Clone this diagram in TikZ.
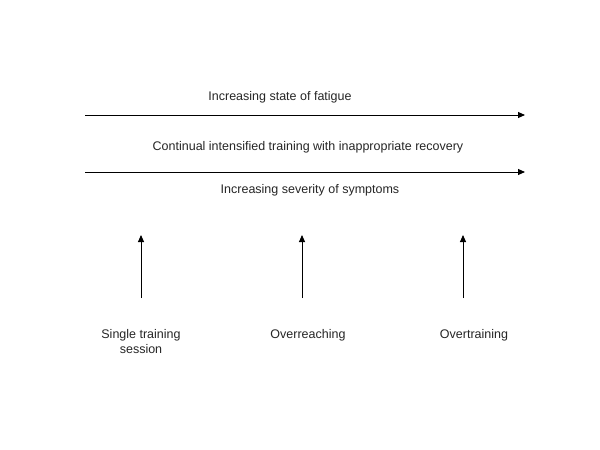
\documentclass[tikz,border=0pt]{standalone}
\usepackage{fontspec}
\setmainfont{Liberation Sans}
\usetikzlibrary{arrows.meta}
\begin{document}
\begin{tikzpicture}[x=1pt,y=-1pt,
  arr/.style={-{Triangle[length=7pt,width=6pt]},line width=0.9pt},
  lbl/.style={font=\fontsize{12.5}{15}\selectfont,text=black!85,align=center,inner sep=0pt}]
\useasboundingbox[fill=white] (0,0) rectangle (600,450);
\coordinate (a1) at (85,115); \coordinate (b1) at (525,115);
\coordinate (a2) at (85,172); \coordinate (b2) at (525,172);
\draw[arr] (a1) -- (b1);
\draw[arr] (a2) -- (b2);
\node[lbl] (t1) at (280,97) {Increasing state of fatigue};
\node[lbl] (t2) at (308,147) {Continual intensified training with inappropriate recovery};
\node[lbl] (t3) at (310,190) {Increasing severity of symptoms};
\foreach \x/\n in {141/s,302/o,463/t}{
  \coordinate (\n0) at (\x,298); \coordinate (\n1) at (\x,235);
  \draw[arr] (\n0) -- (\n1);}
\node[lbl,anchor=north] (l1) at (141,329) {Single training\\session};
\node[lbl,anchor=north] (l2) at (308,329) {Overreaching};
\node[lbl,anchor=north] (l3) at (474,329) {Overtraining};
\end{tikzpicture}
\end{document}
